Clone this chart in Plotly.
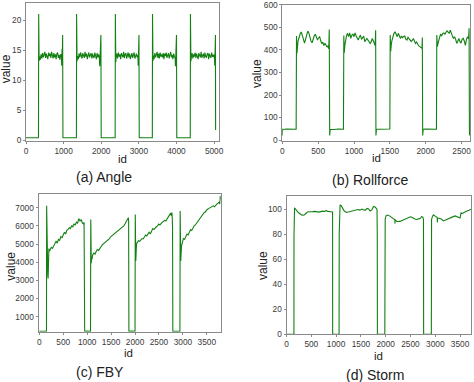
import plotly.graph_objects as go

# ---------------- (a) Angle ----------------
angle_id = ([0, 332, 337, 349] + list(range(360, 960, 20)) + [950, 958, 965, 974, 982]
            + [1340, 1345, 1357] + list(range(1370, 1970, 20)) + [1960, 1968, 1978, 1991, 1999]
            + [2370, 2375, 2387] + list(range(2395, 2985, 20)) + [2982, 2988, 2994, 3003, 3010]
            + [3358, 3363, 3375] + list(range(3385, 3985, 20)) + [3972, 3980, 3988, 4000, 4008]
            + [4366, 4371, 4383] + list(range(4395, 4995, 20)) + [4985, 4995, 5005, 5018, 5028, 5036, 5040])
angle_value = ([0.4, 0.4, 21.0, 13.2]
               + [13.9, 13.4, 14.3, 13.6, 14.5, 13.8, 14.2, 14.7, 13.7, 14.4, 13.9, 13.5, 14.6, 14.0, 14.4,
                  13.7, 14.7, 13.9, 13.6, 14.5, 13.8, 14.3, 13.5, 14.4, 14.6, 13.7, 14.2, 13.4, 14.3, 14.0]
               + [12.4, 15.2, 13.8, 17.5, 0.4]
               + [0.4, 21.0, 13.1]
               + [14.0, 13.5, 14.4, 13.8, 14.6, 14.0, 13.6, 14.5, 14.2, 13.7, 14.7, 13.9, 14.4, 13.5, 14.1,
                  14.6, 13.8, 14.3, 14.5, 13.6, 14.4, 13.9, 13.7, 14.6, 14.0, 13.5, 14.5, 13.8, 14.3, 13.7]
               + [12.3, 15.1, 13.9, 17.5, 0.4]
               + [0.4, 21.0, 13.0]
               + [13.7, 14.4, 13.6, 14.6, 13.9, 14.3, 13.5, 14.5, 14.0, 13.8, 14.7, 13.7, 14.3, 14.5, 13.6,
                  14.0, 14.6, 13.8, 14.4, 13.5, 14.3, 14.5, 13.7, 14.1, 14.6, 13.6, 14.0, 14.4, 13.8, 14.1]
               + [12.4, 15.2, 13.8, 17.5, 0.4]
               + [0.4, 21.0, 13.2]
               + [14.1, 13.5, 14.5, 13.8, 14.3, 14.7, 13.7, 14.4, 13.6, 14.6, 13.9, 14.3, 13.8, 14.5, 13.5,
                  14.4, 14.0, 14.6, 13.7, 14.0, 14.5, 13.6, 14.3, 14.7, 13.8, 14.2, 13.5, 14.4, 13.9, 13.7]
               + [12.3, 15.1, 13.9, 17.5, 0.4]
               + [0.4, 21.0, 13.1]
               + [13.8, 14.5, 13.6, 14.3, 13.9, 14.6, 13.7, 14.4, 14.0, 13.5, 14.5, 14.2, 13.8, 14.7, 13.7,
                  14.1, 14.4, 13.6, 14.6, 13.9, 13.8, 14.3, 14.5, 13.5, 14.4, 14.0, 13.7, 14.6, 13.9, 14.2]
               + [14.1, 13.8, 14.3, 12.4, 15.2, 17.5, 1.7])
angle_xticks = [0, 1000, 2000, 3000, 4000, 5000]
angle_yticks = [0, 5, 10, 15, 20]

# ---------------- (b) Rollforce ----------------
roll_id = ([0, 4, 10, 60, 110, 160, 193, 198, 204, 211] + list(range(220, 655, 15))
           + [648, 655, 661, 668, 720, 780, 853, 858, 865, 872] + list(range(880, 1300, 15))
           + [1295, 1302, 1306, 1313, 1360, 1420, 1500, 1505, 1512, 1519] + list(range(1528, 1950, 15))
           + [1953, 1958, 1965, 2000, 2080, 2150, 2155, 2162, 2169] + list(range(2178, 2600, 15))
           + [2605, 2610, 2614])
roll_value = ([20, 48, 47, 49, 48, 49, 48, 462, 385, 412]
              + [440, 458, 472, 480, 466, 450, 430, 448, 472, 484, 476, 455, 440, 432, 450,
                 462, 470, 455, 446, 452, 460, 442, 428, 435, 420, 430, 418, 412, 420]
              + [405, 491, 20, 48, 47, 49, 48, 464, 388, 420]
              + [445, 462, 474, 460, 476, 452, 466, 470, 459, 476, 462, 451, 444, 458,
                 466, 447, 455, 462, 437, 448, 451, 444, 438, 429, 437, 451, 440, 429]
              + [420, 488, 20, 48, 48, 47, 49, 466, 393, 420]
              + [440, 466, 474, 481, 468, 459, 474, 460, 451, 462, 455, 460, 462, 448, 444,
                 456, 449, 447, 438, 442, 451, 440, 429, 435, 422, 418, 415, 410, 407]
              + [455, 20, 48, 49, 48, 48, 466, 415, 425]
              + [437, 459, 471, 462, 474, 476, 470, 479, 485, 479, 474, 488, 470, 462, 451,
                 459, 447, 429, 440, 451, 437, 430, 447, 452, 440, 420, 445, 459, 450]
              + [496, 30, 20])
roll_xticks = [0, 500, 1000, 1500, 2000, 2500]
roll_yticks = [0, 100, 200, 300, 400, 500, 600]

# ---------------- (c) FBY ----------------
fby_id = ([0, 60, 120, 150, 153, 158, 163, 170, 177, 184, 192, 200, 212] + list(range(225, 935, 25))
          + [935, 941, 948, 1000, 1070, 1075, 1080, 1086, 1093, 1100] + list(range(1115, 1865, 25))
          + [1860, 1866, 1872, 1930, 2000, 2005, 2010, 2016, 2024, 2032] + list(range(2045, 2770, 25))
          + [2760, 2770, 2778, 2784, 2790, 2860, 2938, 2943, 2948, 2955, 2963, 2972] + list(range(2985, 3775, 25))
          + [3772, 3782, 3788])
fby_value = ([200, 210, 200, 205, 7100, 4800, 5400, 4400, 3300, 3100, 4300, 4750, 4600]
             + [4700, 4820, 4760, 4900, 4980, 5150, 5050, 5250, 5200, 5400, 5350, 5500, 5650, 5550, 5750,
                5800, 5900, 5850, 6000, 5950, 6100, 6050, 6200, 6150, 6400, 6250, 6350, 6150, 6100]
             + [6200, 200, 200, 210, 200, 6350, 4500, 3950, 4300, 4150]
             + [4400, 4500, 4450, 4600, 4700, 4650, 4800, 4850, 4950, 5000, 5050, 5150, 5200, 5250, 5300,
                5400, 5450, 5500, 5550, 5600, 5650, 5700, 5750, 5800, 5850, 5950, 6000, 6100, 6200, 6300]
             + [6450, 6300, 200, 205, 200, 6630, 4800, 4070, 4600, 5000]
             + [5100, 5180, 5150, 5250, 5300, 5280, 5400, 5500, 5450, 5600, 5650, 5550, 5750, 5850, 5800,
                5900, 5950, 6000, 6100, 6050, 6150, 6200, 6250, 6300, 6280, 6400, 6500, 6600, 6700]
             + [6550, 6730, 6400, 5900, 200, 210, 200, 6820, 5300, 4070, 4500, 4900]
             + [5100, 5300, 5250, 5450, 5550, 5500, 5650, 5800, 5750, 5900, 6000, 6050, 6150, 6250, 6300,
                6400, 6500, 6600, 6700, 6750, 6850, 6900, 6950, 7000, 7000, 7050, 7100, 7050, 7150, 7200,
                7250, 7300]
             + [7200, 7650, 7450])
fby_xticks = [0, 500, 1000, 1500, 2000, 2500, 3000, 3500]
fby_yticks = [1000, 2000, 3000, 4000, 5000, 6000, 7000]

# ---------------- (d) Storm ----------------
storm_id = ([0, 145, 150, 151, 155, 162, 175, 190]
            + [215, 245, 275, 305, 335, 365, 395, 425, 455, 490, 530, 570, 610, 650, 690, 730, 770, 800,
               830, 860, 895, 925]
            + [929, 931, 1060, 1063, 1066]
            + [1080, 1100, 1130, 1165, 1210, 1250, 1290, 1340, 1390, 1440, 1480, 1520, 1560, 1590, 1625,
               1655, 1685, 1720, 1755, 1785, 1810, 1825]
            + [1830, 1833, 1982, 1985, 1990]
            + [2005, 2040, 2085, 2120, 2150, 2185, 2187, 2189, 2220, 2260, 2290, 2330, 2380, 2420, 2460,
               2500, 2525, 2560, 2600, 2625, 2660, 2700, 2727, 2750]
            + [2762, 2765, 2920, 2925]
            + [2945, 2962, 2990, 3020, 3040, 3042, 3044, 3080, 3120, 3165, 3200, 3250, 3300, 3350, 3400,
               3435, 3470, 3500, 3520, 3535, 3560, 3600, 3640, 3680, 3720])
storm_value = ([0, 0, 0, 78, 100, 100.8, 100.5, 99.5]
               + [98.5, 97.2, 96.2, 95.5, 95.2, 95.6, 96.8, 97.8, 98.0, 97.8, 98.1, 98.3, 98.0, 97.7, 98.1,
                  98.5, 98.2, 99.0, 98.3, 97.9, 98.0, 97.8]
               + [97.8, 0, 0, 80, 102]
               + [103.5, 103.0, 100.5, 98.6, 97.4, 97.8, 98.5, 99.2, 99.6, 99.8, 99.3, 100.2, 99.5, 99.2,
                  100.6, 100.2, 98.6, 99.5, 102.2, 101.8, 100.8, 99.8]
               + [80, 0, 0, 88, 92]
               + [94.7, 95.4, 94.5, 93.2, 92.2, 91.5, 88.5, 91.8, 90.2, 90.0, 90.3, 91.0, 91.8, 92.3, 93.2,
                  94.0, 93.6, 92.5, 92.0, 91.8, 92.2, 92.8, 94.2, 93.6]
               + [92.0, 0, 0, 92]
               + [94.5, 95.5, 94.7, 93.5, 93.3, 89.5, 93.0, 92.8, 92.2, 90.7, 91.2, 92.0, 92.8, 93.9, 94.7,
                  94.2, 93.3, 93.0, 97.3, 96.5, 97.0, 98.1, 98.6, 99.2, 100.0])
storm_xticks = [0, 500, 1000, 1500, 2000, 2500, 3000, 3500]
storm_yticks = [0, 20, 40, 60, 80, 100]

captions = ["(a) Angle", "(b) Rollforce", "(c) FBY", "(d) Storm"]

for a, b in [(angle_id, angle_value), (roll_id, roll_value), (fby_id, fby_value), (storm_id, storm_value)]:
    assert len(a) == len(b), (len(a), len(b))

W, H = 474, 382
LINE = "rgb(18,128,18)"
FRAME = "#8a8a8a"
FONT = "Liberation Sans, Arial, sans-serif"

def px_x(a, b):
    return [a / W, b / W]

def px_y(top, bottom):
    return [1 - bottom / H, 1 - top / H]

panels = [
    dict(x=angle_id, y=angle_value, xd=px_x(26, 219), yd=px_y(2.7, 140.7), xr=[0, 5130], yr=[-0.1, 22.9],
         xt=angle_xticks, yt=angle_yticks),
    dict(x=roll_id, y=roll_value, xd=px_x(282.3, 470), yd=px_y(4.5, 140.7), xr=[0, 2618], yr=[-3, 602],
         xt=roll_xticks, yt=roll_yticks),
    dict(x=fby_id, y=fby_value, xd=px_x(38.5, 220.7), yd=px_y(193.7, 331.7), xr=[-17, 3790], yr=[175, 7770],
         xt=fby_xticks, yt=fby_yticks),
    dict(x=storm_id, y=storm_value, xd=px_x(286.5, 471), yd=px_y(196, 334.3), xr=[0, 3720], yr=[0, 110.6],
         xt=storm_xticks, yt=storm_yticks),
]

fig = go.Figure()
layout = dict(width=W, height=H, margin=dict(l=0, r=0, t=0, b=0, pad=0), paper_bgcolor="white",
              plot_bgcolor="white", showlegend=False, template="none",
              font=dict(family=FONT, color="#333"))
for i, p in enumerate(panels):
    s = "" if i == 0 else str(i + 1)
    fig.add_trace(go.Scatter(x=p["x"], y=p["y"], mode="lines", line=dict(color=LINE, width=1.1),
                             xaxis="x" + s, yaxis="y" + s, hoverinfo="skip"))
    axcommon = dict(showline=True, linecolor=FRAME, linewidth=1, mirror=True, showgrid=False, zeroline=False,
                    automargin=False, ticks="outside", ticklen=2, tickcolor=FRAME, ticklabeloverflow="allow",
                    tickfont=dict(size=8.3, color="#3a3a3a", family=FONT))
    layout["xaxis" + s] = dict(domain=p["xd"], range=p["xr"], tickvals=p["xt"], anchor="y" + s, **axcommon)
    layout["yaxis" + s] = dict(domain=p["yd"], range=p["yr"], tickvals=p["yt"], anchor="x" + s, **axcommon)

fig.update_layout(**layout)

# axis titles and captions
id_pos = [(122.7, 158.5), (376.3, 158), (128.3, 352.5), (378, 355.5)]
val_pos = [(6, 69.3), (257.7, 73.3), (10.7, 266), (263, 266)]
cap_pos = [(104, 176.7), (370.3, 180), (100, 372), (375.3, 374.5)]
for (ix, iy), (vx, vy), (cx, cy), cap in zip(id_pos, val_pos, cap_pos, captions):
    fig.add_annotation(x=ix / W, y=1 - iy / H, xref="paper", yref="paper", text="id", showarrow=False,
                       xanchor="center", yanchor="middle", font=dict(size=11.5, color="#222", family=FONT))
    fig.add_annotation(x=vx / W, y=1 - vy / H, xref="paper", yref="paper", text="value", showarrow=False,
                       textangle=-90, xanchor="center", yanchor="middle", font=dict(size=12, color="#222", family=FONT))
    fig.add_annotation(x=cx / W, y=1 - cy / H, xref="paper", yref="paper", text=cap, showarrow=False,
                       xanchor="center", yanchor="middle", font=dict(size=14, color="#222", family=FONT))

fig.write_html("out.html", config={"displayModeBar": False},
               post_script="document.body.style.margin='0px';document.body.style.padding='0px';")
